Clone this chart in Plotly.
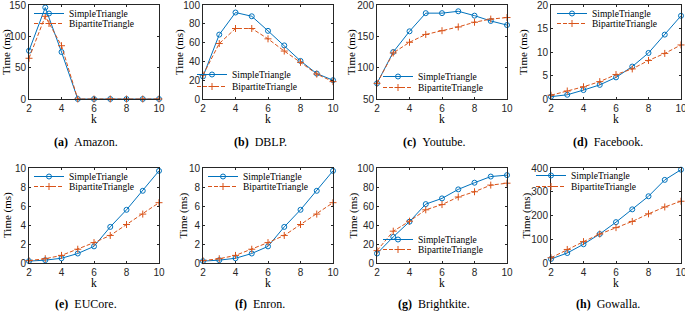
import plotly.graph_objects as go

k = [2, 3, 4, 5, 6, 7, 8, 9, 10]

amazon_simple = [77, 146, 75, 0, 0, 0, 0, 0, 0]
amazon_bip = [65, 132, 85, 0, 0, 0, 0, 0, 0]
dblp_simple = [24, 68.5, 92, 88, 72.5, 57, 40.5, 27, 20]
dblp_bip = [25.5, 59, 75, 75, 64, 51, 39, 26.5, 18.5]
youtube_simple = [75, 125, 158, 187, 187, 190, 183, 174.5, 168]
youtube_bip = [75, 123.5, 140.5, 153, 159, 165, 172.5, 177.5, 180]
facebook_simple = [0.5, 0.9, 1.9, 3.0, 4.6, 6.9, 9.8, 13.7, 17.7]
facebook_bip = [0.8, 1.7, 2.6, 3.7, 5.2, 6.4, 8.2, 9.7, 11.5]
eucore_simple = [0.2, 0.3, 0.5, 1.0, 1.75, 3.8, 5.6, 7.6, 9.7]
eucore_bip = [0.25, 0.45, 0.8, 1.45, 2.15, 2.9, 4.05, 5.15, 6.35]
enron_simple = [0.2, 0.3, 0.5, 1.0, 1.75, 3.8, 5.6, 7.6, 9.7]
enron_bip = [0.25, 0.45, 0.8, 1.45, 2.15, 2.9, 4.05, 5.15, 6.35]
brightkite_simple = [10, 27.5, 43.5, 62, 68, 77.5, 84.5, 91, 92.5]
brightkite_bip = [13, 33.5, 44, 56, 61.5, 69.5, 75, 82, 84]
gowalla_simple = [17, 42, 79, 122, 172, 226, 281, 350, 393]
gowalla_bip = [22, 57, 90, 122, 149, 175, 207, 236, 260]

series_names = ["SimpleTriangle", "BipartiteTriangle"]
captions_letter = ["a", "b", "c", "d", "e", "f", "g", "h"]
captions_name = ["Amazon.", "DBLP.", "Youtube.", "Facebook.", "EUCore.", "Enron.", "Brightkite.", "Gowalla."]
y_ranges = [[0, 150], [0, 100], [50, 200], [0, 20], [0, 10], [0, 10], [0, 100], [0, 400]]
y_dticks = [50, 20, 50, 5, 2, 2, 20, 100]
x_ticks = [2, 4, 6, 8, 10]

panels = [
    (amazon_simple, amazon_bip),
    (dblp_simple, dblp_bip),
    (youtube_simple, youtube_bip),
    (facebook_simple, facebook_bip),
    (eucore_simple, eucore_bip),
    (enron_simple, enron_bip),
    (brightkite_simple, brightkite_bip),
    (gowalla_simple, gowalla_bip),
]

W, H = 685, 312
BLUE = "#0072BD"
ORANGE = "#D95319"
AX = "#262626"
SERIF = "Liberation Serif"
SANS = "Liberation Sans"

# pixel layout
col_x = [(29, 159), (203, 333), (377, 507), (551, 681)]
row_y = [(5, 99), (168, 263)]
ytitle_x = [[7, 180, 352, 524], [7.5, 183, 353, 526]]
xtitle_y = [118.5, 283]
caption_y = [142, 303.5]
# legend text start (x) and centers (y) per panel
leg_pos = [
    (69, 15, 25), (232, 76, 88), (418, 78, 89), (592, 15, 25),
    (69, 178, 188), (243, 178, 188), (418, 241, 251), (571, 177, 188),
]
LEG_DY = -1.5

def px(x):
    return x / W

def py(y):
    return 1 - y / H

fig = go.Figure()
layout = dict(
    width=W, height=H,
    margin=dict(l=0, r=0, t=0, b=0, autoexpand=False),
    paper_bgcolor="white", plot_bgcolor="white",
    showlegend=True,
    annotations=[],
)

def note(x, y, text, size, angle=0):
    return dict(x=px(x), y=py(y), xref="paper", yref="paper", text=text,
                textangle=angle, showarrow=False, xanchor="center", yanchor="middle",
                font=dict(family=SERIF, size=size, color="black"))

leg_idx = 1
for i, (s, b) in enumerate(panels):
    r, c = divmod(i, 4)
    x0, x1 = col_x[c]
    y0, y1 = row_y[r]
    xa = "x" if i == 0 else f"x{i+1}"
    ya = "y" if i == 0 else f"y{i+1}"
    xkey = "xaxis" if i == 0 else f"xaxis{i+1}"
    ykey = "yaxis" if i == 0 else f"yaxis{i+1}"
    axis_common = dict(
        showgrid=False, zeroline=False, showline=True, linecolor=AX, linewidth=1,
        mirror="ticks", ticks="inside", ticklen=2, tickcolor=AX,
        tickfont=dict(family=SANS, size=10, color=AX),
        ticklabeloverflow="allow",
    )
    layout[xkey] = dict(axis_common, domain=[px(x0), px(x1)], anchor=ya,
                        range=[2, 10], tickvals=x_ticks)
    layout[ykey] = dict(axis_common, domain=[py(y1), py(y0)], anchor=xa,
                        range=y_ranges[i], dtick=y_dticks[i])

    tx, ly1, ly2 = leg_pos[i]
    for j, (vals, name) in enumerate(zip((s, b), series_names)):
        lname = "legend" if leg_idx == 1 else f"legend{leg_idx}"
        if j == 0:
            line = dict(color=BLUE, width=1)
            marker = dict(symbol="circle-open", size=5, color=BLUE, line=dict(width=1, color=BLUE))
        else:
            line = dict(color=ORANGE, width=1, dash="4px,2px")
            marker = dict(symbol="cross-thin-open", size=5, color=ORANGE, line=dict(width=1, color=ORANGE))
        fig.add_trace(go.Scatter(
            x=k, y=vals, name=name, mode="lines+markers", line=line, marker=marker,
            xaxis=xa, yaxis=ya, legend=lname, cliponaxis=False,
        ))
        layout[lname] = dict(
            x=px(tx - 40), xanchor="left", y=py((ly1 if j == 0 else ly2) + LEG_DY), yanchor="middle",
            bgcolor="rgba(0,0,0,0)", borderwidth=0,
            font=dict(family=SERIF, size=9.5, color="black"),
        )
        leg_idx += 1

    cx = (x0 + x1) / 2
    layout["annotations"].append(note(ytitle_x[r][c], (y0 + y1) / 2, "Time (ms)", 11, -90))
    layout["annotations"].append(note(cx, xtitle_y[r], "k", 11.5))
    layout["annotations"].append(note(cx - 8, caption_y[r],
                                      f"<b>({captions_letter[i]})</b>\u2002{captions_name[i]}", 12))

fig.update_layout(**layout)
fig.write_html("out.html", config={"displayModeBar": False},
               post_script="document.body.style.margin='0px';document.body.style.overflow='hidden';")
